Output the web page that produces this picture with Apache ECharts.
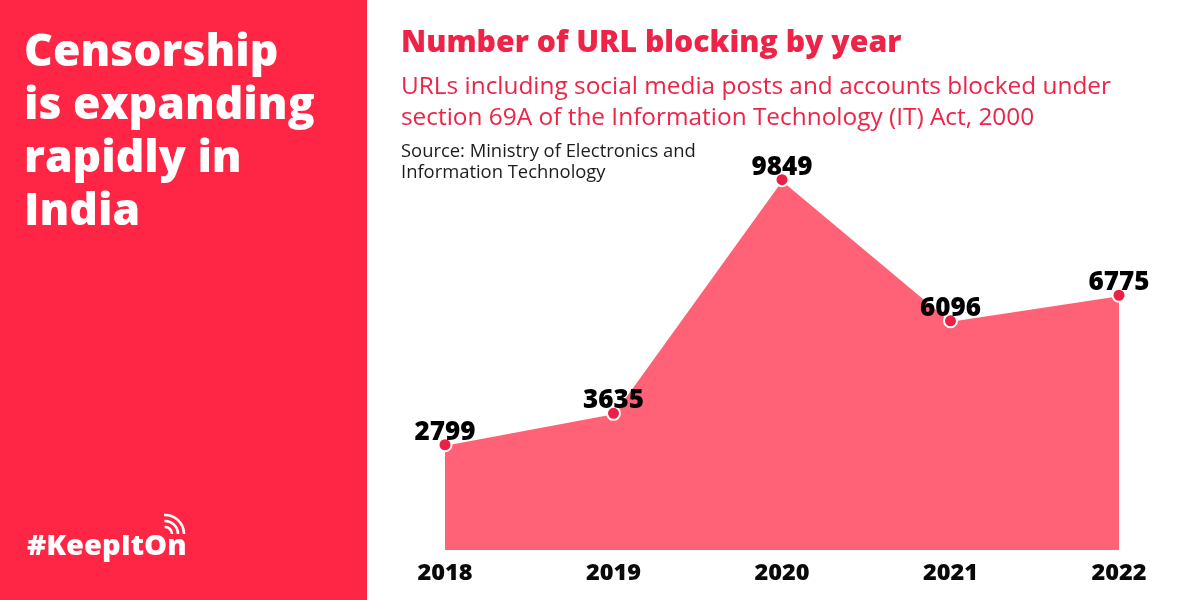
<!DOCTYPE html>
<html>
<head>
<meta charset="utf-8">
<style>html,body{margin:0;padding:0;background:#fff}#c{width:1200px;height:600px}</style>
<script src="https://cdn.jsdelivr.net/npm/echarts@6/dist/echarts.min.js"></script>
</head>
<body>
<div id="c"></div>
<script>
const years = ['2018', '2019', '2020', '2021', '2022'];
const blockedUrls = [2799, 3635, 9849, 6096, 6775];
const headline = ['Censorship', 'is expanding', 'rapidly in', 'India'];
const chartTitle = 'Number of URL blocking by year';
const chartSubtitle = ['URLs including social media posts and accounts blocked under', 'section 69A of the Information Technology (IT) Act, 2000'];
const sourceNote = ['Source: Ministry of Electronics and', 'Information Technology'];
const campaignTag = '#KeepItOn';

const RED = '#ff2544';
const TITLE_RED = '#ee2347';
const AREA = '#ff6277';
const FONT = '"Open Sans", Lato, sans-serif';

const chart = echarts.init(document.getElementById('c'), null, {renderer: 'canvas'});

function textEl(text, x, y, size, weight, fill, extra) {
  return {type: 'text', x, y, silent: true,
    style: Object.assign({text, fontFamily: FONT, fontSize: size, fontWeight: weight, fill, textVerticalAlign: 'middle'}, extra || {})};
}

// Signal arcs above the campaign tag
function signalArc(r) {
  return {type: 'arc', silent: true,
    shape: {cx: 165, cy: 534, r, startAngle: -Math.PI / 2 - 0.05, endAngle: 0},
    style: {stroke: '#fff', lineWidth: 2.6, fill: null}};
}

chart.setOption({
  animation: false,
  backgroundColor: '#fff',
  grid: {left: 445, right: 81, top: 174, height: 376, containLabel: false},
  xAxis: {
    type: 'category', data: years, boundaryGap: false,
    axisLine: {show: false}, axisTick: {show: false}, splitLine: {show: false},
    axisLabel: {color: '#0a0a0a', fontFamily: FONT, fontWeight: 800, fontSize: 23.5, margin: 11, alignMaxLabel: 'center', alignMinLabel: 'center'}
  },
  yAxis: {type: 'value', min: 0, max: 10000, show: false, splitLine: {show: false}},
  series: [{
    type: 'line', data: blockedUrls, smooth: false,
    symbol: 'circle', symbolSize: 13, showAllSymbol: true, clip: false,
    lineStyle: {color: '#fff', width: 2},
    itemStyle: {color: '#ee1f45', borderColor: '#fff', borderWidth: 2, opacity: 1},
    areaStyle: {color: AREA, opacity: 1},
    label: {show: true, position: 'top', distance: -8, color: '#000', fontFamily: FONT, fontWeight: 800, fontSize: 26}
  }],
  graphic: {elements: [
    {type: 'rect', z: -1, silent: true, shape: {x: 0, y: 0, width: 367, height: 600}, style: {fill: RED}},
    ...headline.map((line, i) => textEl(line, 24, 53 + i * 53, 44.5, 800, '#fff')),
    textEl(chartTitle, 401, 43, 30.2, 800, TITLE_RED),
    ...chartSubtitle.map((line, i) => textEl(line, 401, 87 + i * 31, 24.4, 400, TITLE_RED)),
    ...sourceNote.map((line, i) => textEl(line, 401, 152 + i * 21, 18.4, 400, '#1c1c1c')),
    textEl(campaignTag, 27, 547, 29, 800, '#fff'),
    signalArc(7), signalArc(13), signalArc(19)
  ]}
});
</script>
</body>
</html>
